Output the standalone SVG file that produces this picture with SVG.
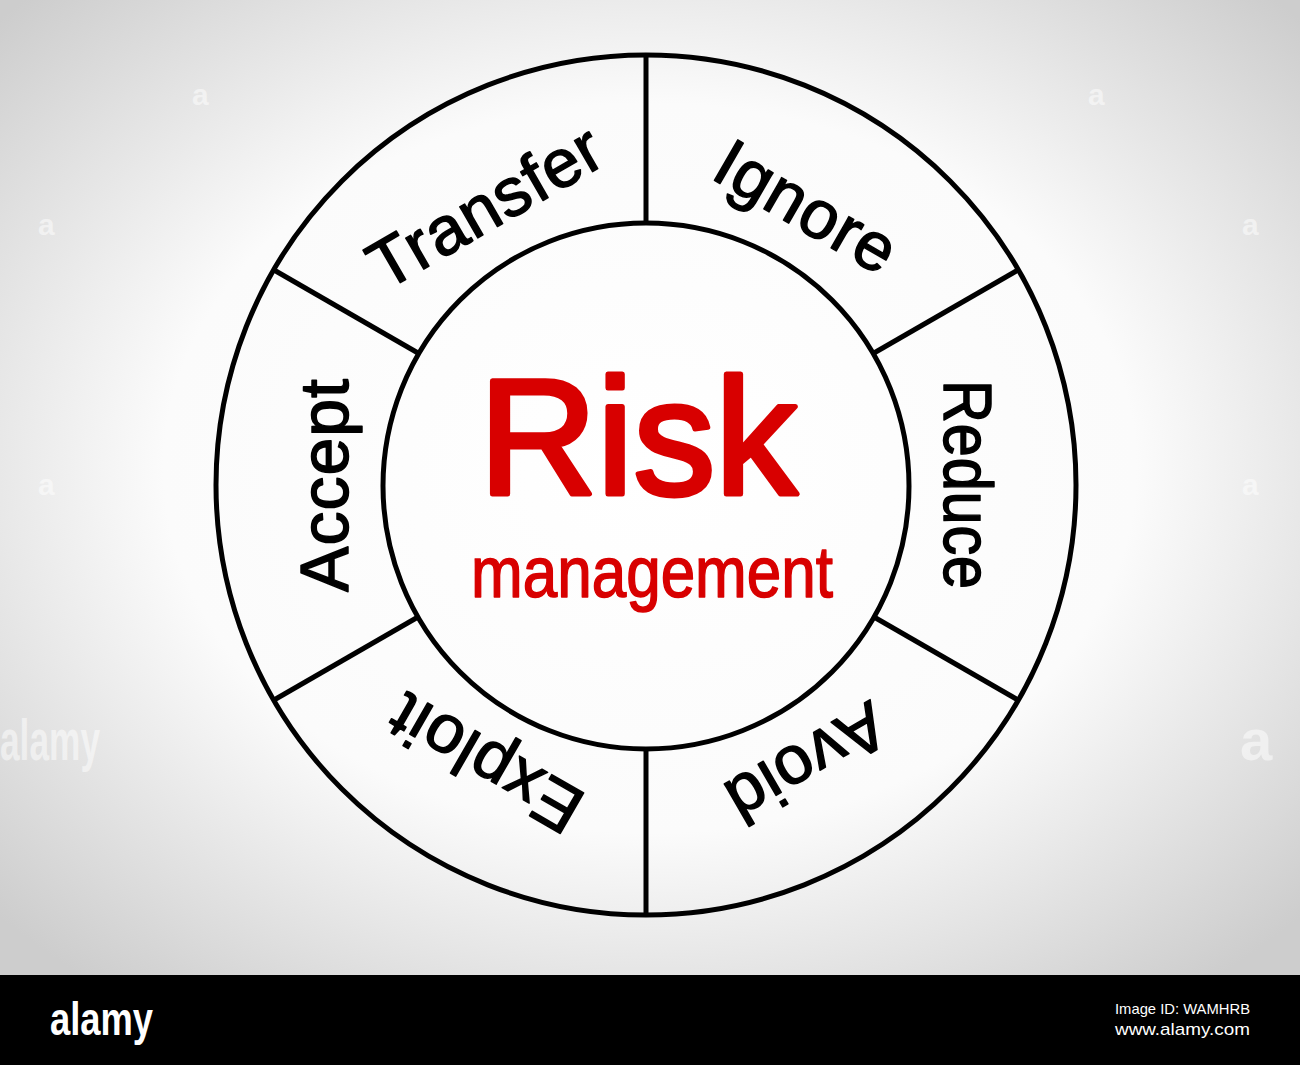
<svg xmlns="http://www.w3.org/2000/svg" width="1300" height="1065" viewBox="0 0 1300 1065">
  <defs>
    <radialGradient id="bg" cx="50%" cy="48%" r="68%">
      <stop offset="0" stop-color="#ffffff"/>
      <stop offset="0.55" stop-color="#fbfbfb"/>
      <stop offset="1" stop-color="#cdcdcd"/>
    </radialGradient>
    <style>
      .ring { fill: none; stroke: #000; stroke-width: 5; }
      .div { stroke: #000; stroke-width: 5; stroke-linecap: butt; }
      .lbl { font-family: "Liberation Sans", "DejaVu Sans", sans-serif; font-size: 68px; fill: #000; stroke: #000; stroke-width: 1.5; stroke-linejoin: round; text-anchor: middle; letter-spacing: 1px; }
      .red { font-family: "Liberation Sans", "DejaVu Sans", sans-serif; fill: #d80000; stroke: #d80000; stroke-linejoin: round; text-anchor: middle; }
      .wm { font-family: "Liberation Sans", "DejaVu Sans", sans-serif; font-weight: bold; fill: #ffffff; fill-opacity: 0.5; }
      .band { font-family: "Liberation Sans", "DejaVu Sans", sans-serif; fill: #ffffff; }
    </style>
  </defs>

  <rect x="0" y="0" width="1300" height="975" fill="url(#bg)"/>

  <!-- faint watermarks -->
  <text class="wm" x="0" y="760" font-size="58" textLength="100" lengthAdjust="spacingAndGlyphs">alamy</text>
  <text class="wm" x="1240" y="760" font-size="58">a</text>
  <text class="wm" x="192" y="105" font-size="30">a</text>
  <text class="wm" x="1088" y="105" font-size="30">a</text>
  <text class="wm" x="38" y="235" font-size="30">a</text>
  <text class="wm" x="1242" y="235" font-size="30">a</text>
  <text class="wm" x="38" y="495" font-size="30">a</text>
  <text class="wm" x="1242" y="495" font-size="30">a</text>

  <g id="wheel">
    <circle class="ring" cx="646" cy="485" r="430"/>
    <circle class="ring" cx="646" cy="486" r="263"/>
  </g>

  <g id="connectors">
    <line class="div" x1="646" y1="55" x2="646" y2="223"/>
    <line class="div" x1="646" y1="749" x2="646" y2="915"/>
    <line class="div" x1="274" y1="270" x2="418" y2="353"/>
    <line class="div" x1="1018" y1="270" x2="874" y2="353"/>
    <line class="div" x1="274" y1="700" x2="418" y2="617"/>
    <line class="div" x1="1018" y1="700" x2="874" y2="617"/>
  </g>

  <g id="center">
    <text class="red" x="638" y="494" font-size="165" stroke-width="5" textLength="318" lengthAdjust="spacingAndGlyphs">Risk</text>
    <text class="red" x="652" y="597" font-size="72" stroke-width="1.5" textLength="362" lengthAdjust="spacingAndGlyphs">management</text>
  </g>

  <g id="transfer" transform="translate(646,485) rotate(-30)">
    <text class="lbl" x="0" y="-298">Transfer</text>
  </g>
  <g id="ignore" transform="translate(646,485) rotate(30)">
    <text class="lbl" x="0" y="-298">Ignore</text>
  </g>
  <g id="reduce" transform="translate(646,485) rotate(90)">
    <text class="lbl" x="0" y="-298" textLength="210" lengthAdjust="spacingAndGlyphs">Reduce</text>
  </g>
  <g id="avoid" transform="translate(646,485) rotate(150)">
    <text class="lbl" x="0" y="-298">Avoid</text>
  </g>
  <g id="exploit" transform="translate(646,485) rotate(210)">
    <text class="lbl" x="0" y="-298">Exploit</text>
  </g>
  <g id="accept" transform="translate(646,485) rotate(270)">
    <text class="lbl" x="0" y="-298">Accept</text>
  </g>

  <g id="footer">
    <rect x="0" y="975" width="1300" height="90" fill="#000"/>
    <text class="band" x="50" y="1035" font-size="46" font-weight="bold" textLength="103" lengthAdjust="spacingAndGlyphs">alamy</text>
    <text class="band" x="1115" y="1014" font-size="15" textLength="135" lengthAdjust="spacingAndGlyphs">Image ID: WAMHRB</text>
    <text class="band" x="1115" y="1035" font-size="17" textLength="135" lengthAdjust="spacingAndGlyphs">www.alamy.com</text>
  </g>
</svg>
